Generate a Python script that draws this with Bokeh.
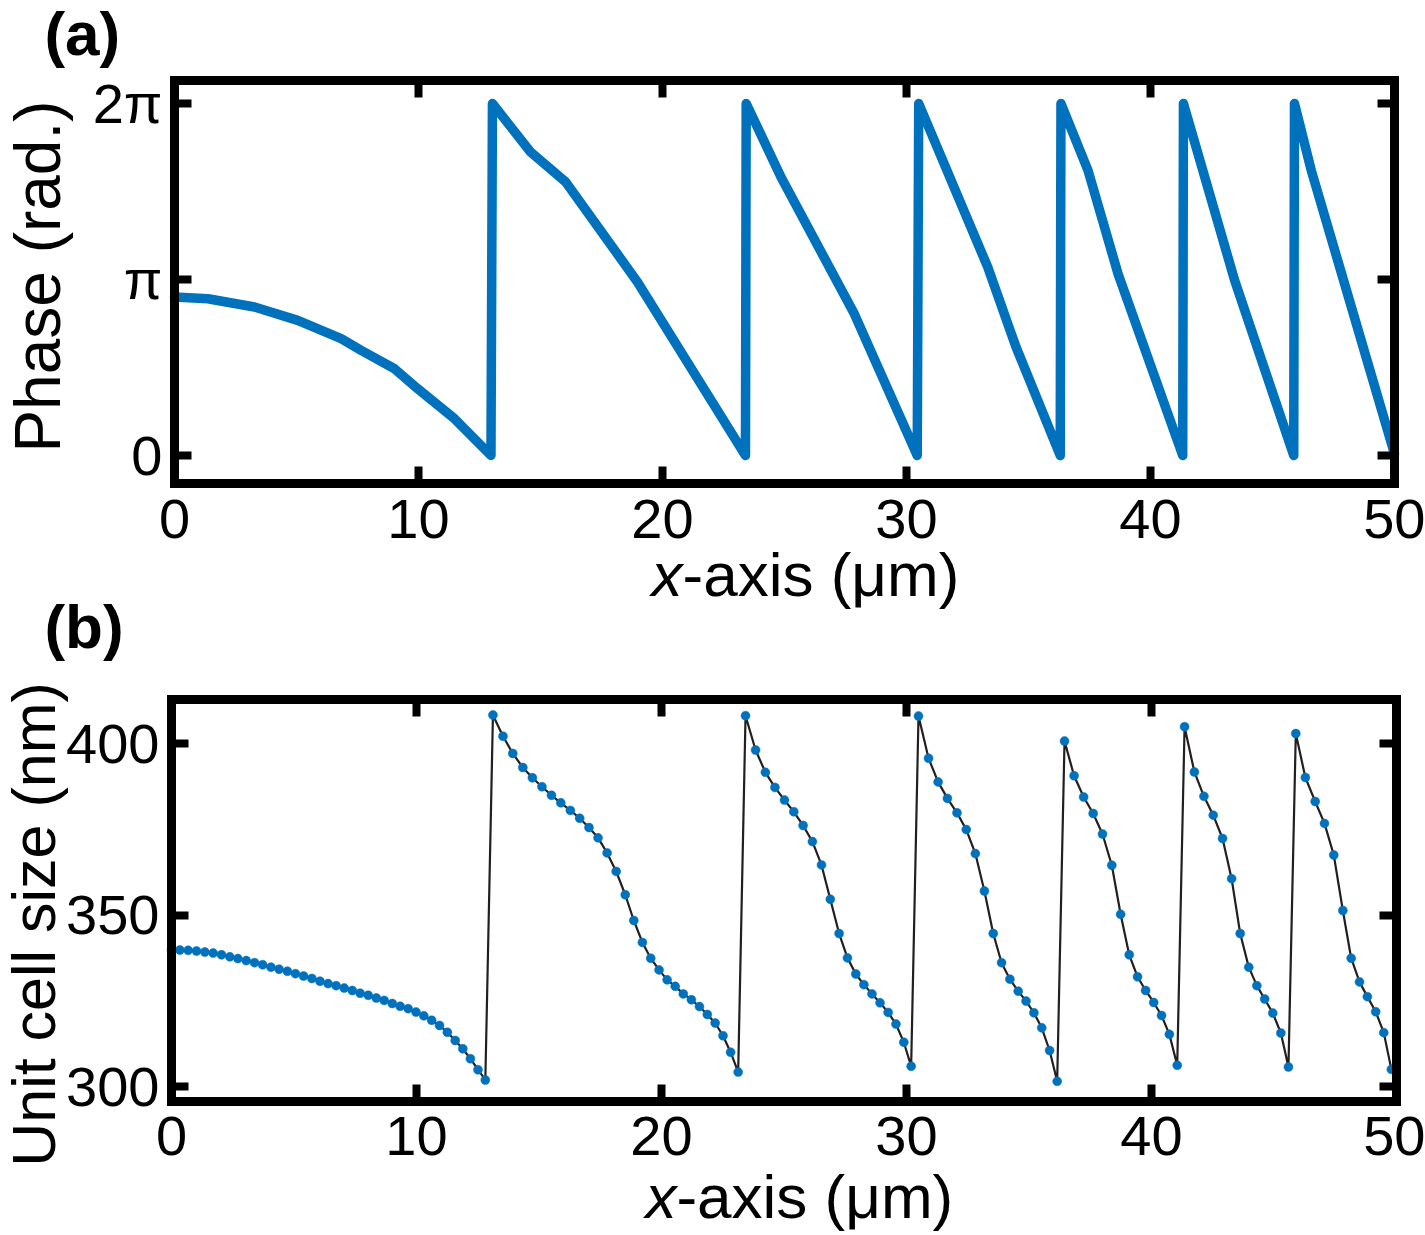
import numpy as np
from bokeh.plotting import figure
from bokeh.models import Range1d, LinearAxis, FixedTicker, Label, CustomJSTickFormatter
from bokeh.embed import file_html
from bokeh.resources import INLINE

BLUE = "#0072BD"
FONT = "Liberation Sans"

# ---------------- data ----------------
x_ticks = [0, 10, 20, 30, 40, 50]

# (a) phase profile (rad) vs x (um)
phase_x = [0.0, 1.37, 3.28, 5.05, 6.83, 7.65, 9.02, 9.97, 11.48, 12.97,
           13.03, 14.60, 16.04, 18.98, 23.40,
           23.43, 24.86, 27.86, 30.44,
           30.50, 33.33, 34.49, 36.30,
           36.33, 37.44, 38.67, 41.32,
           41.35, 43.45, 45.87,
           45.90, 46.59, 50.0]
phase_y = [2.829, 2.799, 2.650, 2.412, 2.085, 1.876, 1.548, 1.191, 0.655, 0.0,
           6.283, 5.414, 4.879, 3.094, 0.0,
           6.283, 4.968, 2.529, 0.0,
           6.283, 3.362, 1.934, 0.0,
           6.283, 5.087, 3.243, 0.0,
           6.283, 3.124, 0.0,
           6.283, 5.087, 0.03]
phase_ticks = [0.0, np.pi, 2 * np.pi]
phase_tick_labels = ["0", "π", "2π"]
phase_range = (-0.5, 6.694)

# (b) unit cell size (nm) vs x (um)
cell_x = [0.00, 0.34, 0.68, 1.02, 1.36, 1.70, 2.04, 2.38, 2.71, 3.05,
          3.39, 3.72, 4.06, 4.39, 4.73, 5.06, 5.39, 5.73, 6.06, 6.39,
          6.72, 7.05, 7.38, 7.70, 8.03, 8.36, 8.68, 9.01, 9.33, 9.66,
          9.98, 10.30, 10.62, 10.94, 11.26, 11.58, 11.89, 12.20, 12.51, 12.81,
          13.12, 13.53, 13.93, 14.34, 14.73, 15.12, 15.51, 15.89, 16.28, 16.66,
          17.04, 17.41, 17.78, 18.15, 18.52, 18.87, 19.22, 19.56, 19.90, 20.23,
          20.56, 20.89, 21.22, 21.55, 21.87, 22.19, 22.51, 22.82, 23.13,
          23.43, 23.84, 24.24, 24.63, 25.02, 25.40, 25.78, 26.16, 26.53, 26.89,
          27.25, 27.59, 27.93, 28.26, 28.59, 28.92, 29.25, 29.57, 29.89, 30.19,
          30.49, 30.90, 31.29, 31.67, 32.06, 32.44, 32.81, 33.18, 33.54, 33.88,
          34.22, 34.56, 34.88, 35.20, 35.52, 35.84, 36.15,
          36.45, 36.84, 37.23, 37.62, 38.00, 38.38, 38.74, 39.09, 39.43, 39.76,
          40.09, 40.41, 40.73, 41.05,
          41.35, 41.75, 42.14, 42.52, 42.90, 43.27, 43.62, 43.97, 44.30, 44.62,
          44.95, 45.28, 45.59,
          45.89, 46.28, 46.68, 47.06, 47.44, 47.81, 48.15, 48.49, 48.81, 49.15,
          49.48, 49.79]
cell_y = [339.9, 339.8, 339.7, 339.5, 339.2, 338.9, 338.4, 337.8, 337.3, 336.7,
          336.1, 335.5, 334.8, 334.2, 333.6, 332.9, 332.2, 331.5, 330.7, 330.0,
          329.4, 328.7, 328.0, 327.2, 326.6, 325.8, 325.1, 324.2, 323.4, 322.7,
          321.7, 320.6, 319.3, 317.8, 315.8, 313.4, 311.0, 308.1, 304.9, 301.9,
          408.3, 402.1, 397.1, 393.0, 390.0, 387.4, 384.9, 382.7, 380.5, 378.2,
          375.5, 372.5, 368.1, 362.7, 355.9, 348.4, 342.0, 337.4, 334.0, 331.1,
          329.2, 327.0, 325.3, 323.3, 321.0, 318.5, 314.8, 310.0, 304.2,
          408.1, 398.1, 391.6, 387.2, 383.5, 380.1, 376.1, 371.4, 364.6, 354.6,
          344.6, 337.5, 332.8, 329.7, 327.0, 324.4, 321.6, 318.2, 312.9, 305.9,
          408.0, 395.7, 388.8, 384.0, 379.8, 374.9, 367.9, 357.0, 344.6, 336.1,
          331.3, 327.8, 324.9, 321.5, 317.1, 310.5, 301.5,
          400.7, 390.6, 384.4, 379.6, 373.6, 364.5, 350.2, 338.4, 332.0, 328.0,
          324.5, 320.7, 315.2, 306.2,
          404.9, 391.7, 384.6, 379.1, 372.3, 360.6, 344.6, 334.8, 329.4, 325.5,
          321.4, 315.6, 305.7,
          402.9, 390.1, 383.1, 376.7, 367.5, 351.3, 337.4, 330.5, 326.2, 321.8,
          315.7, 305.0]
cell_ticks = [300, 350, 400]
cell_range = (295.63, 412.83)
x_span = (0, 50)

TICK_FS = "56px"
PANEL_FS = "62px"

# One canvas; panel (a) uses the default ranges, panel (b) the named ones.
p = figure(width=1425, height=1235, output_backend="svg", toolbar_location=None,
           x_axis_type=None, y_axis_type=None,
           x_range=Range1d(-7.1311, 51.2705), y_range=Range1d(-13.9236, 8.1221),
           min_border_left=0, min_border_right=0, min_border_top=0, min_border_bottom=0)
p.extra_x_ranges = {"xb": Range1d(-6.9796, 51.1837)}
p.extra_y_ranges = {"cell": Range1d(256.560, 616.618)}
p.outline_line_color = None
p.grid.visible = False
p.background_fill_color = "white"
p.border_fill_color = "white"

phase_fmt = CustomJSTickFormatter(code="""
    if (Math.abs(tick) < 1e-6) { return "0"; }
    if (Math.abs(tick - Math.PI) < 1e-6) { return "π"; }
    return "2π";
""")


def make_axis(side, loc, bounds, ticks, show_labels, xr="default", yr="default",
              formatter=None, standoff=12):
    ax = LinearAxis(x_range_name=xr, y_range_name=yr, fixed_location=loc,
                    bounds=bounds, ticker=FixedTicker(ticks=ticks))
    if formatter is not None:
        ax.formatter = formatter
    ax.axis_line_color = "black"
    ax.axis_line_width = 9
    ax.axis_line_cap = "square"
    ax.major_tick_in = 17
    ax.major_tick_out = 0
    ax.major_tick_line_width = 8
    ax.major_tick_line_color = "black"
    ax.minor_tick_line_color = None
    ax.major_label_text_font = FONT
    ax.major_label_text_color = "black"
    ax.major_label_text_font_size = TICK_FS
    ax.major_label_standoff = standoff
    if not show_labels:
        ax.major_label_text_alpha = 0
        ax.major_label_text_font_size = "1px"
        ax.major_label_standoff = 0
    p.add_layout(ax, side)
    return ax


# panel (a) box and axes
make_axis("below", phase_range[0], x_span, x_ticks, True, standoff=16)
make_axis("above", phase_range[1], x_span, x_ticks, False)
make_axis("left", x_span[0], phase_range, phase_ticks, True, formatter=phase_fmt, standoff=12)
make_axis("right", x_span[1], phase_range, phase_ticks, False)

# panel (b) box and axes
make_axis("below", cell_range[0], x_span, x_ticks, True, xr="xb", yr="cell", standoff=16)
make_axis("above", cell_range[1], x_span, x_ticks, False, xr="xb", yr="cell")
make_axis("left", x_span[0], cell_range, cell_ticks, True, xr="xb", yr="cell", standoff=12)
make_axis("right", x_span[1], cell_range, cell_ticks, False, xr="xb", yr="cell")

# data
p.line(phase_x, phase_y, line_color=BLUE, line_width=9.5,
       line_join="round", line_cap="round")
p.line(cell_x, cell_y, line_color="#231F20", line_width=2.2,
       x_range_name="xb", y_range_name="cell")
p.scatter(cell_x, cell_y, marker="circle", size=9, fill_color=BLUE,
          line_color=BLUE, line_width=0.5, x_range_name="xb", y_range_name="cell")


def add_text(x, y, text, size, style="normal", align="left", angle=0.0):
    p.add_layout(Label(x=x, y=y, text=text, text_font=FONT, text_font_size=size,
                       text_font_style=style, text_color="black",
                       text_align=align, text_baseline="alphabetic",
                       angle=angle, angle_units="rad"))


# texts (positions in panel (a) data units)
add_text(-5.33, 7.533, "(a)", PANEL_FS, style="bold")
add_text(-5.61, 3.195, "Phase (rad.)", "64px", align="center", angle=np.pi / 2)
add_text(19.55, -2.125, "x", "62px", style="italic")
add_text(20.82, -2.125, "-axis (μm)", "62px")
add_text(-5.33, -3.052, "(b)", PANEL_FS, style="bold")
add_text(-5.74, -8.372, "Unit cell size (nm)", "61px", align="center", angle=np.pi / 2)
add_text(19.30, -13.225, "x", "62px", style="italic")
add_text(20.57, -13.225, "-axis (μm)", "62px")

open("out.html", "w").write(file_html(p, INLINE))
